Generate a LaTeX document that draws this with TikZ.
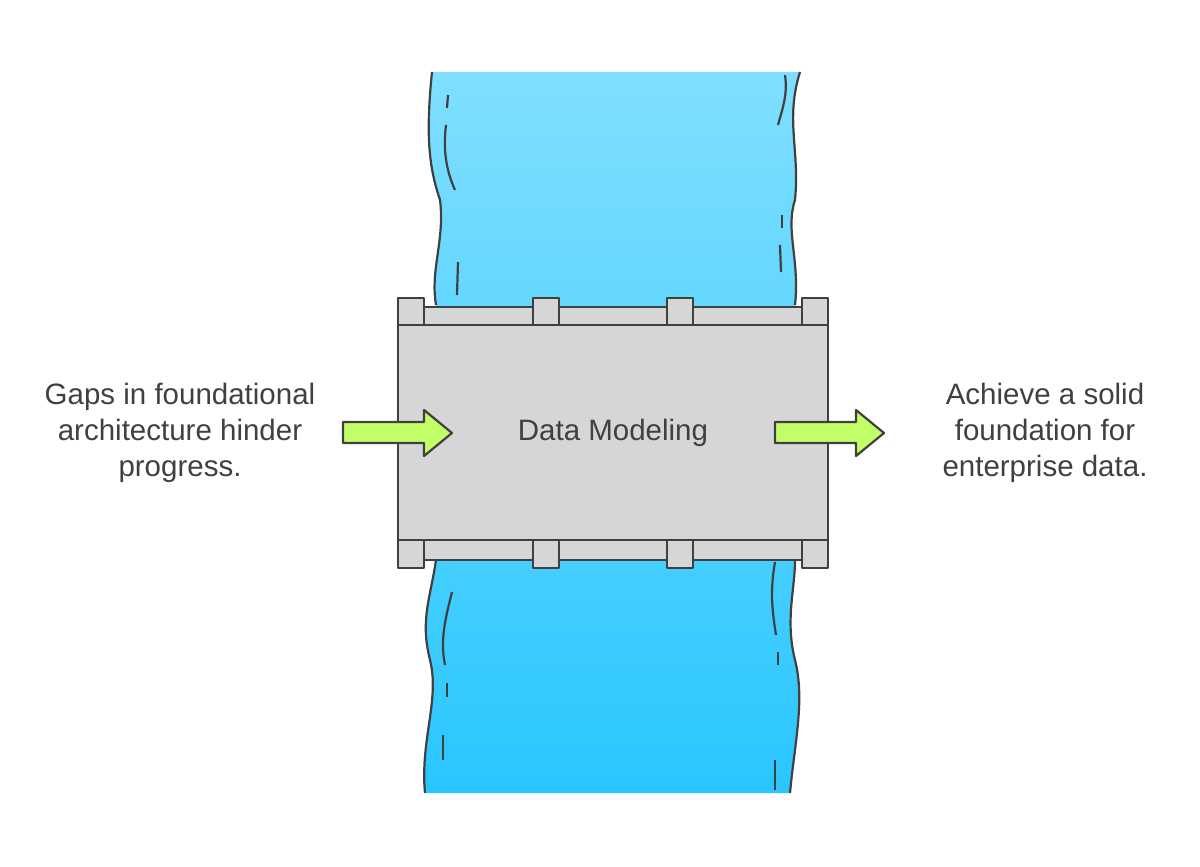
\documentclass[tikz,border=0pt]{standalone}
\usepackage{fontspec}
\setmainfont{Liberation Sans}
\begin{document}
\begin{tikzpicture}[x=1pt,y=-1pt,
  ln/.style={draw=black!75,line width=2.2pt,line join=round},
  part/.style={ln,fill=black!16},
  arr/.style={ln,fill=green!40!yellow!60},
  lbl/.style={align=center,font=\fontsize{29.5}{36}\selectfont,text=black!75}]
\useasboundingbox (0,0) rectangle (1200,867);
% river
\shade[top color={rgb,255:red,128;green,223;blue,255},bottom color={rgb,255:red,41;green,198;blue,255}]
 (432,72) .. controls (425,140) and (430,170) .. (440,200) .. controls (445,240) and (430,270) .. (436,305)
 -- (436,560) .. controls (430,600) and (420,620) .. (430,660) .. controls (440,700) and (420,740) .. (425,793)
 -- (790,793) .. controls (795,740) and (805,700) .. (795,660) .. controls (785,620) and (795,590) .. (795,560)
 -- (795,305) .. controls (800,260) and (785,230) .. (795,200) .. controls (800,150) and (785,120) .. (800,72) -- cycle;
\draw[ln] (432,72) .. controls (425,140) and (430,170) .. (440,200) .. controls (445,240) and (430,270) .. (436,305);
\draw[ln] (436,560) .. controls (430,600) and (420,620) .. (430,660) .. controls (440,700) and (420,740) .. (425,793);
\draw[ln] (795,305) .. controls (800,260) and (785,230) .. (795,200) .. controls (800,150) and (785,120) .. (800,72);
\draw[ln] (795,560) .. controls (795,590) and (785,620) .. (795,660) .. controls (805,700) and (795,740) .. (790,793);
% inner strokes
\draw[ln] (448,95) -- (447,108);
\draw[ln] (446,125) .. controls (443,150) and (446,170) .. (455,190);
\draw[ln] (458,262) -- (457,295);
\draw[ln] (785,75) .. controls (788,95) and (782,110) .. (778,125);
\draw[ln] (782,215) -- (782,228);
\draw[ln] (780,245) -- (781,272);
\draw[ln] (452,592) .. controls (445,620) and (440,640) .. (445,665);
\draw[ln] (447,683) -- (447,697);
\draw[ln] (443,735) -- (443,760);
\draw[ln] (775,562) .. controls (770,590) and (772,610) .. (776,635);
\draw[ln] (778,652) -- (778,665);
\draw[ln] (775,760) -- (775,790);
% bridge
\draw[part] (424,307) rectangle (802,325);
\draw[part] (424,540) rectangle (802,560);
\foreach \x in {398,533,667,802}{
  \draw[part] (\x,298) rectangle +(26,27);
  \draw[part] (\x,540) rectangle +(26,28);}
\draw[part] (398,325) rectangle (828,540);
\node[lbl] (dm) at (613,433) {Data Modeling};
% arrows
\draw[arr] (343,422) -- (424,422) -- (424,410) -- (452,433) -- (424,456) -- (424,443) -- (343,443) -- cycle;
\draw[arr] (775,422) -- (856,422) -- (856,410) -- (884,433) -- (856,456) -- (856,443) -- (775,443) -- cycle;
\node[lbl] (l) at (180,433) {Gaps in foundational\\architecture hinder\\progress.};
\node[lbl] (r) at (1045,433) {Achieve a solid\\foundation for\\enterprise data.};
\end{tikzpicture}
\end{document}
